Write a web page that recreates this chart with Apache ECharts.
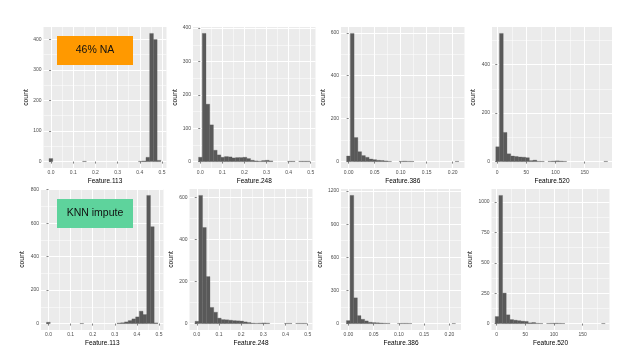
<!DOCTYPE html>
<html><head><meta charset="utf-8">
<script src="https://cdn.jsdelivr.net/npm/echarts@6/dist/echarts.min.js"></script>
<style>html,body{margin:0;padding:0;background:#fff}#c{width:638px;height:359px}</style>
</head><body><div id="c"></div>
<script>
// ---------------- DATA ----------------
const featureNames = ['Feature.113', 'Feature.248', 'Feature.386', 'Feature.520'];
const rowLabels = ['46% NA', 'KNN impute'];
const binStart = [-0.009, -0.0075, -0.004, -2.5];
const binWidth = [0.0168, 0.0168, 0.0072, 6.4];
const xRange = [[-0.034, 0.5204], [-0.0327, 0.5217], [-0.0148, 0.2228], [-9, 197]];
const xTicks = [[0, 0.1, 0.2, 0.3, 0.4, 0.5], [0, 0.1, 0.2, 0.3, 0.4, 0.5], [0, 0.05, 0.1, 0.15, 0.2], [0, 50, 100, 150]];
const xDecimals = [1, 1, 2, 0];

const countsNA113 = [10,0,0,0,0,0,0,0,0,1, 0,0,0,0,0,0,0,0,0,0, 0,0,0,0,1,2,14,419,399,4];
const countsNA248 = [13,384,172,110,34,20,13,15,14,11, 12,12,13,9,4,2,1,3,4,2, 0,0,0,0,1,1,0,1,1,1];
const countsNA386 = [26,597,112,46,28,20,12,9,6,5, 3,1,0,0,1,2,1,1,0,0, 0,0,0,0,0,0,0,0,0,1];
const countsNA520 = [61,528,120,32,23,21,19,18,16,4, 6,1,1,0,1,2,3,2,1,0, 0,0,0,0,0,0,0,0,0,1];
const countsKNN113 = [8,0,0,0,0,0,0,0,0,1, 0,0,0,0,0,0,0,0,0,3, 5,10,18,28,40,74,54,766,579,4];
const countsKNN248 = [11,611,458,224,77,54,26,19,18,16, 14,13,12,8,5,2,1,2,3,2, 0,0,0,0,1,1,0,1,1,1];
const countsKNN386 = [27,1160,233,72,39,24,12,9,7,5, 3,2,0,0,1,2,2,1,0,0, 0,0,0,0,0,0,0,0,0,1];
const countsKNN520 = [58,1055,251,72,33,28,24,20,18,6, 9,2,1,0,1,2,3,2,1,0, 0,0,0,0,0,0,0,0,0,1];

const yTicksNA = [[0,100,200,300,400], [0,100,200,300,400], [0,200,400,600], [0,200,400]];
const yTicksKNN = [[0,200,400,600,800], [0,200,400,600], [0,300,600,900,1200], [0,250,500,750,1000]];

// ---------------- LAYOUT ----------------
const rowsCounts = [[countsNA113, countsNA248, countsNA386, countsNA520],
                    [countsKNN113, countsKNN248, countsKNN386, countsKNN520]];
const rowsYTicks = [yTicksNA, yTicksKNN];
const gridTop = [27, 189];
const gridHeight = 141;
const gridLeft = [[43.5, 193, 341, 492], [41, 189.5, 341, 491.5]];
const gridWidth = [[123, 122.5, 123.5, 120], [122.5, 123, 120, 118]];
const countTitleX = [[30, 176.7, 325, 473], [22, 171.7, 321.7, 470]];
const xNameGap = [9.5, 10];
const FONT = 'Liberation Sans';

function minorsOf(ticks, range) {
  const step = ticks[1] - ticks[0];
  const out = [];
  for (let k = -1; k < ticks.length; k++) {
    const v = +(ticks[0] + (k + 0.5) * step).toFixed(10);
    if (v > range[0] && v < range[1]) out.push(v);
  }
  return out;
}

const grids = [], xAxes = [], yAxes = [], series = [];
for (let r = 0; r < 2; r++) {
  for (let f = 0; f < 4; f++) {
    const gi = grids.length;
    const counts = rowsCounts[r][f];
    const M = Math.max(...counts);
    const yr = [-0.05 * M, 1.05 * M];
    const xt = xTicks[f], yt = rowsYTicks[r][f];
    grids.push({left: gridLeft[r][f], top: gridTop[r], width: gridWidth[r][f], height: gridHeight,
      show: true, backgroundColor: '#EBEBEB', borderWidth: 0});
    const dec = xDecimals[f];
    xAxes.push({type: 'value', gridIndex: gi, min: xRange[f][0], max: xRange[f][1], position: 'bottom',
      name: featureNames[f], nameLocation: 'middle', nameGap: xNameGap[r],
      nameTextStyle: {fontSize: 6.5, color: '#000', fontFamily: FONT},
      axisLine: {show: false},
      axisTick: {show: true, length: 2, lineStyle: {color: '#333', width: 0.6}, customValues: xt},
      axisLabel: {customValues: xt, formatter: v => (+v).toFixed(dec), fontSize: 5, color: '#4D4D4D', margin: 2, fontFamily: FONT},
      splitLine: {show: true, lineStyle: {color: '#FFFFFF', width: 1}}});
    xAxes.push({type: 'value', gridIndex: gi, min: xRange[f][0], max: xRange[f][1], position: 'bottom',
      axisLine: {show: false}, axisTick: {show: false, customValues: minorsOf(xt, xRange[f])},
      axisLabel: {show: false}, splitLine: {show: true, lineStyle: {color: '#FFFFFF', width: 0.5}}});
    const yGap = gridLeft[r][f] - countTitleX[r][f] - 3.4;
    yAxes.push({type: 'value', gridIndex: gi, min: yr[0], max: yr[1], position: 'left',
      name: 'count', nameLocation: 'middle', nameGap: yGap, nameRotate: 90,
      nameTextStyle: {fontSize: 6.8, color: '#000', fontFamily: FONT},
      axisLine: {show: false},
      axisTick: {show: true, length: 2, lineStyle: {color: '#333', width: 0.6}, customValues: yt},
      axisLabel: {customValues: yt, formatter: v => String(Math.round(v)), fontSize: 5, color: '#4D4D4D', margin: 2, fontFamily: FONT},
      splitLine: {show: true, lineStyle: {color: '#FFFFFF', width: 1}}});
    yAxes.push({type: 'value', gridIndex: gi, min: yr[0], max: yr[1], position: 'left',
      axisLine: {show: false}, axisTick: {show: false, customValues: minorsOf(yt, yr)},
      axisLabel: {show: false}, splitLine: {show: true, lineStyle: {color: '#FFFFFF', width: 0.5}}});
    const s0 = binStart[f], w = binWidth[f];
    series.push({type: 'custom', xAxisIndex: 2 * gi, yAxisIndex: 2 * gi, silent: true, animation: false,
      data: counts.map((c, k) => [s0 + k * w, s0 + (k + 1) * w, c]),
      encode: {x: [0, 1], y: 2},
      renderItem: (params, api) => {
        const c = api.value(2);
        if (!c) return null;
        const p0 = api.coord([api.value(0), c]);
        const p1 = api.coord([api.value(1), 0]);
        return {type: 'rect', shape: {x: p0[0], y: p0[1], width: p1[0] - p0[0], height: p1[1] - p0[1]},
          style: {fill: '#595959', stroke: '#595959', lineWidth: 0.3}};
      }});
  }
}

const chart = echarts.init(document.getElementById('c'), null, {renderer: 'canvas'});
chart.setOption({
  animation: false,
  backgroundColor: '#FFFFFF',
  grid: grids, xAxis: xAxes, yAxis: yAxes, series: series,
  graphic: [
    {type: 'rect', shape: {x: 57, y: 36, width: 76, height: 29}, style: {fill: '#FF9900'}, z: 100},
    {type: 'text', x: 95, y: 50.5, style: {text: rowLabels[0], fill: '#111', font: '10.5px "Liberation Sans"', align: 'center', verticalAlign: 'middle'}, z: 101},
    {type: 'rect', shape: {x: 57, y: 199, width: 76, height: 29}, style: {fill: '#5ED39C'}, z: 100},
    {type: 'text', x: 95, y: 213.5, style: {text: rowLabels[1], fill: '#111', font: '10.5px "Liberation Sans"', align: 'center', verticalAlign: 'middle'}, z: 101}
  ]
});
</script></body></html>
